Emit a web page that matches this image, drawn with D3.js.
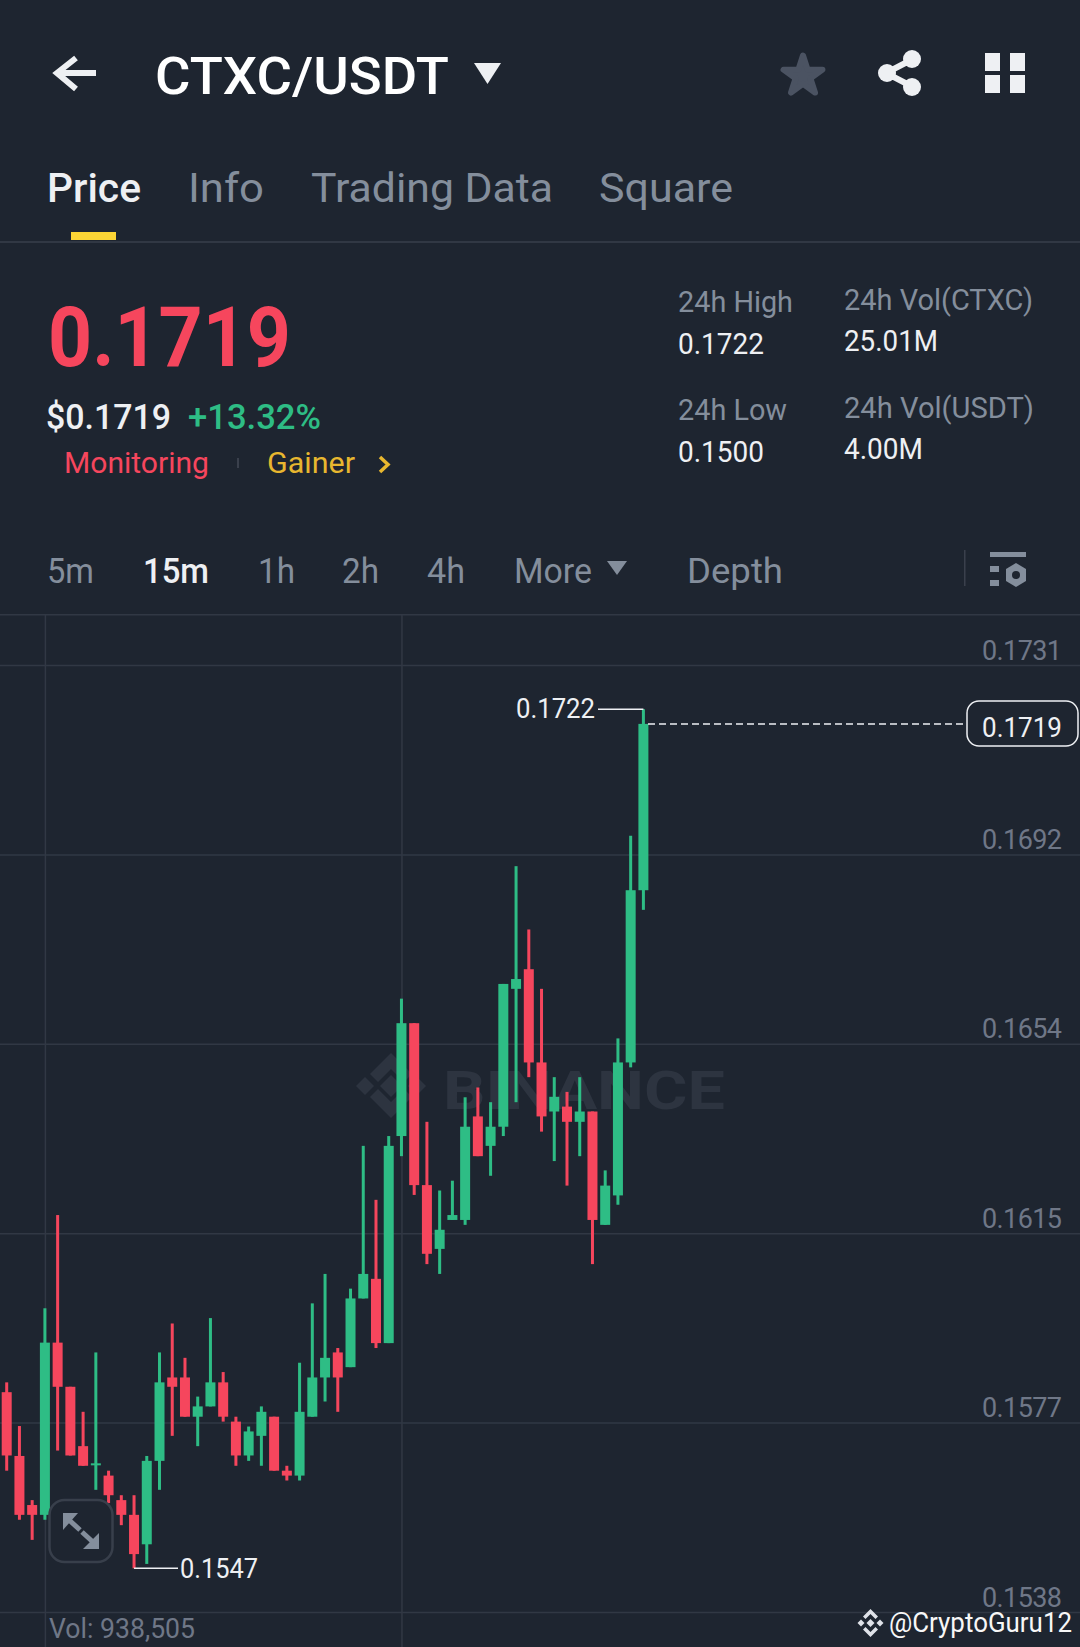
<!DOCTYPE html>
<html>
<head>
<meta charset="utf-8">
<script src="https://cdn.jsdelivr.net/npm/d3@7"></script>
<style>
  html, body { margin: 0; padding: 0; background: #1e2530; }
  svg { display: block; }
  text { font-family: Roboto, "Noto Sans", sans-serif; }
</style>
</head>
<body>
<script>
// candles, oldest first
const opens = [0.15828, 0.15698, 0.15598, 0.15578, 0.15929, 0.15839, 0.15718, 0.15679, 0.15658, 0.15608,
  0.15578, 0.15518, 0.15688, 0.15858, 0.15858, 0.15778, 0.15799, 0.15848, 0.15768, 0.15699,
  0.15739, 0.15778, 0.15668, 0.15658, 0.15778, 0.15858, 0.15909, 0.15879, 0.16019, 0.16059,
  0.15928, 0.16350, 0.16580, 0.16250, 0.16120, 0.16179, 0.16179, 0.16390, 0.16330, 0.16369,
  0.16650, 0.16690, 0.16500, 0.16400, 0.16410, 0.16379, 0.16400, 0.16169, 0.16229, 0.16500,
  0.16851];
const highs = [0.15848, 0.15759, 0.15608, 0.15999, 0.16189, 0.15839, 0.15788, 0.15909, 0.15668, 0.15618,
  0.15618, 0.15698, 0.15909, 0.15968, 0.15898, 0.15819, 0.15979, 0.15869, 0.15778, 0.15758,
  0.15799, 0.15778, 0.15678, 0.15888, 0.16009, 0.16069, 0.15918, 0.16039, 0.16330, 0.16220,
  0.16350, 0.16630, 0.16580, 0.16379, 0.16239, 0.16259, 0.16429, 0.16449, 0.16419, 0.16660,
  0.16900, 0.16771, 0.16650, 0.16470, 0.16440, 0.16470, 0.16400, 0.16280, 0.16549, 0.16962,
  0.1722];
const lows = [0.15668, 0.15568, 0.15527, 0.15568, 0.15709, 0.15699, 0.15678, 0.15629, 0.15602, 0.15557,
  0.15469, 0.15478, 0.15629, 0.15739, 0.15778, 0.15718, 0.15799, 0.15768, 0.15678, 0.15688,
  0.15678, 0.15668, 0.15648, 0.15648, 0.15778, 0.15809, 0.15788, 0.15879, 0.16019, 0.15918,
  0.15928, 0.16309, 0.16230, 0.16089, 0.16069, 0.16179, 0.16169, 0.16309, 0.16269, 0.16350,
  0.16419, 0.16470, 0.16359, 0.16299, 0.16249, 0.16309, 0.16089, 0.16169, 0.16210, 0.16490,
  0.16811];
const closes = [0.15699, 0.15578, 0.15578, 0.15929, 0.15839, 0.15699, 0.15678, 0.15683, 0.15618, 0.15578,
  0.15498, 0.15688, 0.15848, 0.15839, 0.15778, 0.15799, 0.15848, 0.15778, 0.15699, 0.15748,
  0.15788, 0.15668, 0.15658, 0.15788, 0.15858, 0.15898, 0.15858, 0.16019, 0.16069, 0.15928,
  0.16330, 0.16580, 0.16250, 0.16110, 0.16159, 0.16189, 0.16369, 0.16309, 0.16369, 0.16660,
  0.16670, 0.16500, 0.16390, 0.16430, 0.16379, 0.16400, 0.16179, 0.16249, 0.16500, 0.16851,
  0.1719];
const priceTicks = [0.1731, 0.16924, 0.16538, 0.16152, 0.15766, 0.1538];
const gridIndices = [3, 31];
const tabs = ["Price", "Info", "Trading Data", "Square"];
const periods = ["5m", "15m", "1h", "2h", "4h", "More", "Depth"];

const w = 1080;
const h = 1647;
const bg = "#1e2530";
const red = "#f6465d";
const green = "#2ebd85";
const gray = "#848e9c";
const dim = "#6f7787";
const lineCol = "#313844";
const white = "#eef0f3";

const svg = d3.select("body").append("svg").attr("width", w).attr("height", h);
svg.append("rect").attr("width", w).attr("height", h).attr("fill", bg);

// text fitted between two x positions
function label(str, x0, x1, base, size, fill, weight) {
  return svg.append("text")
    .attr("x", x0)
    .attr("y", base)
    .attr("font-size", size)
    .attr("font-weight", weight || 400)
    .attr("fill", fill)
    .attr("textLength", x1 - x0)
    .attr("lengthAdjust", "spacingAndGlyphs")
    .text(str);
}

// header
svg.append("path").attr("d", "M96 73H58M76 58L57 73L76 89")
  .attr("fill", "none").attr("stroke", white).attr("stroke-width", 6);
label("CTXC/USDT", 155, 449, 94, 52, "#ffffff", 500);
svg.append("path").attr("d", "M474 63H501L487.5 84Z").attr("fill", white);
svg.append("path").attr("d", d3.symbol(d3.symbolStar).size(470)())
  .attr("transform", "translate(803,76)")
  .attr("fill", "#4b5362").attr("stroke", "#4b5362").attr("stroke-width", 6).attr("stroke-linejoin", "round");
svg.append("path").attr("d", "M913 59L886 73L913 87")
  .attr("fill", "none").attr("stroke", white).attr("stroke-width", 6);
svg.selectAll("circle.share").data([[912, 59], [887, 73], [912, 87]]).enter().append("circle")
  .attr("class", "share").attr("cx", (d) => d[0]).attr("cy", (d) => d[1]).attr("r", 9).attr("fill", white);
[[985, 53, 15, 18], [1010, 53, 15, 18], [985, 75, 15, 18], [1010, 75, 15, 18]].forEach((r) => {
  svg.append("rect").attr("x", r[0]).attr("y", r[1]).attr("width", r[2]).attr("height", r[3]).attr("fill", white);
});

// tabs
const tabSpans = [[47, 141], [188, 264], [311, 553], [599, 733]];
tabs.forEach((t, i) => label(t, tabSpans[i][0], tabSpans[i][1], 202, 40, i === 0 ? white : gray, i === 0 ? 500 : 400));
svg.append("rect").attr("x", 71).attr("y", 232).attr("width", 45).attr("height", 8).attr("fill", "#fcd535");
svg.append("rect").attr("x", 0).attr("y", 241).attr("width", w).attr("height", 2).attr("fill", lineCol);

// price block
label("0.1719", 48, 291, 366, 84, red, 700);
label("$0.1719", 46, 171, 429, 35, white, 500);
label("+13.32%", 188, 321, 429, 35, green, 500);
label("Monitoring", 64, 209, 473, 29, red, 400);
svg.append("rect").attr("x", 237).attr("y", 458).attr("width", 2).attr("height", 10).attr("fill", "#3a404c");
label("Gainer", 267, 355, 473, 29, "#e8b72f", 400);
svg.append("path").attr("d", "M380 457L388 464.5L380 472")
  .attr("fill", "none").attr("stroke", "#e8b72f").attr("stroke-width", 3.5);

label("24h High", 678, 793, 312, 30, gray);
label("0.1722", 678, 764, 354, 29, white);
label("24h Low", 678, 787, 420, 30, gray);
label("0.1500", 678, 764, 462, 29, white);
label("24h Vol(CTXC)", 844, 1033, 310, 30, gray);
label("25.01M", 844, 938, 351, 29, white);
label("24h Vol(USDT)", 844, 1034, 418, 30, gray);
label("4.00M", 844, 923, 459, 29, white);

// period row
const periodSpans = [[47, 94], [143, 209], [258, 295], [342, 379], [427, 465], [514, 592], [687, 783]];
periods.forEach((t, i) => label(t, periodSpans[i][0], periodSpans[i][1], 583, 35, i === 1 ? white : gray, i === 1 ? 500 : 400));
svg.append("path").attr("d", "M607 561H627L617 575Z").attr("fill", gray);
svg.append("rect").attr("x", 964).attr("y", 550).attr("width", 1.5).attr("height", 36).attr("fill", "#3a404c");
svg.append("rect").attr("x", 990).attr("y", 552).attr("width", 36).attr("height", 5).attr("fill", gray);
svg.append("rect").attr("x", 990).attr("y", 566).attr("width", 9).attr("height", 6).attr("fill", gray);
svg.append("rect").attr("x", 990).attr("y", 580).attr("width", 9).attr("height", 6).attr("fill", gray);
svg.append("path").attr("d", d3.line()([[1016, 563], [1026, 569], [1026, 581], [1016, 587], [1006, 581], [1006, 569]]) + "Z").attr("fill", gray);
svg.append("circle").attr("cx", 1016).attr("cy", 575).attr("r", 4).attr("fill", bg);
svg.append("rect").attr("x", 0).attr("y", 614).attr("width", w).attr("height", 1.5).attr("fill", lineCol);

// chart
const x = d3.scaleLinear().domain([0, opens.length - 1]).range([6.7, 643.4]);
const y = d3.scaleLinear().domain([0.1538, 0.1731]).range([1612, 665]);

const yAxis = d3.axisRight(y).tickValues(priceTicks).tickFormat(d3.format(".4f")).tickSize(w);
const yG = svg.append("g").attr("class", "y-axis").call(yAxis);
yG.select(".domain").remove();
yG.selectAll(".tick line").attr("stroke", lineCol).attr("stroke-width", 1.5);
yG.selectAll(".tick text")
  .attr("x", 982).attr("y", -6).attr("dy", 0)
  .attr("text-anchor", "start")
  .attr("font-size", 27).attr("fill", dim)
  .attr("textLength", 80).attr("lengthAdjust", "spacing")
  .style("font-family", "Roboto");

const xAxis = d3.axisBottom(x).tickValues(gridIndices).tickFormat("").tickSize(h - 615);
const xG = svg.append("g").attr("class", "x-axis").attr("transform", "translate(0,615)").call(xAxis);
xG.select(".domain").remove();
xG.selectAll(".tick text").remove();
xG.selectAll(".tick line").attr("stroke", lineCol).attr("stroke-width", 1.5);

// watermark behind the candles
const markCol = "#2d3440";
const mark = [[391, 1053], [412, 1074], [404, 1082], [391, 1069], [378, 1082], [370, 1074]];
svg.append("g").attr("fill", markCol).call((g) => {
  g.append("path").attr("d", d3.line()(mark) + "Z");
  g.append("path").attr("d", d3.line()(mark.map((p) => [p[0], 2171 - p[1]])) + "Z");
  g.append("path").attr("d", "M391 1075L402 1086L391 1097L380 1086Z");
  g.append("path").attr("d", "M365 1077L374 1086L365 1095L356 1086Z");
  g.append("path").attr("d", "M417 1077L426 1086L417 1095L408 1086Z");
});
label("BINANCE", 443, 725, 1109, 54, markCol, 700);

const candles = opens.map((o, i) => ({ i, o, h: highs[i], l: lows[i], c: closes[i] }));
const candle = svg.selectAll("g.candle").data(candles).enter().append("g")
  .attr("class", "candle")
  .attr("fill", (d) => (d.c >= d.o ? green : red));
candle.append("rect")
  .attr("x", (d) => x(d.i) - 1.5)
  .attr("y", (d) => y(d.h))
  .attr("width", 3)
  .attr("height", (d) => y(d.l) - y(d.h));
candle.append("rect")
  .attr("x", (d) => x(d.i) - 5)
  .attr("y", (d) => y(Math.max(d.o, d.c)))
  .attr("width", 10)
  .attr("height", (d) => Math.max(2, Math.abs(y(d.o) - y(d.c))));

// high / low / last markers
const last = closes[closes.length - 1];
const hiIdx = d3.maxIndex(highs);
const loIdx = d3.minIndex(lows);
svg.append("line").attr("x1", 598).attr("x2", x(hiIdx)).attr("y1", y(highs[hiIdx])).attr("y2", y(highs[hiIdx]))
  .attr("stroke", white).attr("stroke-width", 1.5);
label("0.1722", 516, 595, 718, 27, white);
svg.append("line").attr("x1", x(loIdx)).attr("x2", 178).attr("y1", y(lows[loIdx])).attr("y2", y(lows[loIdx]))
  .attr("stroke", white).attr("stroke-width", 1.5);
label("0.1547", 180, 258, 1578, 27, white);
svg.append("line").attr("x1", 648).attr("x2", 967).attr("y1", y(last)).attr("y2", y(last))
  .attr("stroke", white).attr("stroke-width", 1.5).attr("stroke-dasharray", "7 4");
svg.append("rect").attr("x", 967).attr("y", 701).attr("width", 111).attr("height", 45).attr("rx", 12)
  .attr("fill", bg).attr("stroke", white).attr("stroke-width", 1.5);
label("0.1719", 982, 1062, 737, 27, white);

// expand button
svg.append("rect").attr("x", 49.5).attr("y", 1500).attr("width", 63).attr("height", 62).attr("rx", 15)
  .attr("fill", "none").attr("stroke", "#383f4b").attr("stroke-width", 2.5);
svg.append("path").attr("d", "M63 1513H78L63 1530Z").attr("fill", gray);
svg.append("path").attr("d", "M99 1549H83L99 1533Z").attr("fill", gray);
svg.append("path").attr("d", "M68 1519L80 1530M94 1543L82 1532")
  .attr("fill", "none").attr("stroke", gray).attr("stroke-width", 5);

label("Vol: 938,505", 49, 195, 1638, 27, dim);

// credit, bottom right
const logo = "#dfe2e8";
svg.append("path").attr("d", "M870.5 1609L878 1616.5L875.5 1619L870.5 1614L865.5 1619L863 1616.5Z").attr("fill", logo);
svg.append("path").attr("d", "M870.5 1637L878 1629.5L875.5 1627L870.5 1632L865.5 1627L863 1629.5Z").attr("fill", logo);
svg.append("path").attr("d", "M870.5 1619L874.5 1623L870.5 1627L866.5 1623Z").attr("fill", logo);
svg.append("path").attr("d", "M861 1619.5L864.5 1623L861 1626.5L857.5 1623Z").attr("fill", logo);
svg.append("path").attr("d", "M880 1619.5L883.5 1623L880 1626.5L876.5 1623Z").attr("fill", logo);
label("@CryptoGuru12", 889, 1072, 1632, 28, "#f7f7f7");
</script>
</body>
</html>
